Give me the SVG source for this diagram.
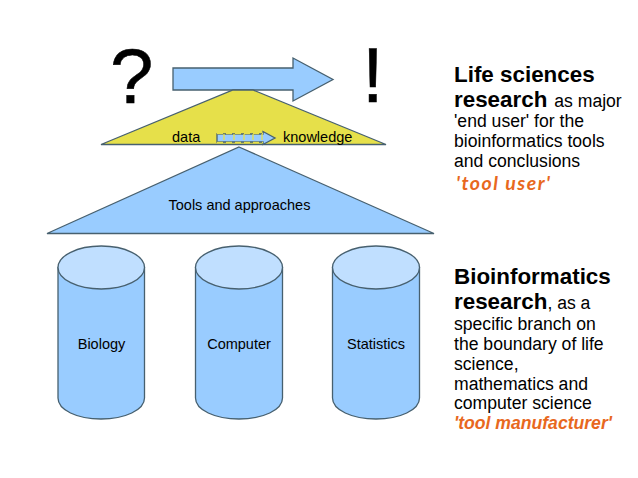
<svg xmlns="http://www.w3.org/2000/svg" width="638" height="478" viewBox="0 0 638 478">
<style>
text{font-family:"Liberation Sans",Arial,sans-serif;fill:#000}
.s{stroke:#47606f;stroke-width:1.3}
.b{fill:#99ccff}
.t{fill:#c0dfff}
.l{font-size:14.5px}
.c{font-size:14.5px;text-anchor:middle}
.h{font-size:22.4px;font-weight:bold}
.m{font-size:17.6px}
.o{fill:#e8681e;font-weight:bold;font-style:italic}
.d{fill:none;stroke:#e6e04a;stroke-width:1.3;stroke-dasharray:6 3}
.g{font-size:78px;stroke:#000;stroke-width:.5}
</style>
<rect width="638" height="478" fill="#fff"/>
<g id="question"><text class="g" x="110" y="103">?</text></g>
<g id="exclaim"><text class="g" x="362" y="102">!</text></g>
<g id="main-arrow"><path class="s b" d="M173 68H293V58L333 79.500 293 101V90H173Z"/></g>
<g id="knowledge-triangle">
<path class="s" fill="#e6e04a" d="M101 144.500L233 90H253L386 144.500Z"/>
<text class="l" x="172" y="142">data</text>
<text class="l" x="283" y="142">knowledge</text>
</g>
<g id="small-arrow">
<path class="s b" d="M217 134H263V131.500L275 138 263 144.500V142H217Z"/>
<path class="d" d="M217 133.500H263M217 142.500H263M224 134V142M234 134V142M244 134V142M253 134V142M262 134V142"/>
</g>
<g id="tools-triangle">
<path class="s b" d="M239 147L434 233.500H47Z"/>
<text class="l" x="168.500" y="210">Tools and approaches</text>
</g>
<g id="biology">
<path class="s b" d="M58 267.500V398C58 410 77 419 101 419S144.500 410 144.500 398V267.500Z"/>
<ellipse class="s t" cx="101.250" cy="267.500" rx="43.250" ry="21.500"/>
<text class="c" x="101.500" y="349">Biology</text>
</g>
<g id="computer">
<path class="s b" d="M195.500 267.500V398C195.500 410 215 419 239 419S282.500 410 282.500 398V267.500Z"/>
<ellipse class="s t" cx="239" cy="267.500" rx="43.500" ry="21.500"/>
<text class="c" x="239" y="349">Computer</text>
</g>
<g id="statistics">
<path class="s b" d="M332.500 267.500V398C332.500 410 352 419 376 419S419.500 410 419.500 398V267.500Z"/>
<ellipse class="s t" cx="376" cy="267.500" rx="43.500" ry="21.500"/>
<text class="c" x="376" y="349">Statistics</text>
</g>
<g id="life-sciences-note">
<text class="h" x="454" y="82">Life sciences</text>
<text x="454" y="107"><tspan class="h">research</tspan><tspan class="m" dx="2"> as major</tspan></text>
<text class="m" x="454" y="127">'end user' for the</text>
<text class="m" x="454" y="147">bioinformatics tools</text>
<text class="m" x="454" y="166.500">and conclusions</text>
<text class="o" x="456" y="189.500" style="font-family:Lato,'Liberation Sans',sans-serif;font-size:19.5px;letter-spacing:1.5px">'tool user'</text>
</g>
<g id="bioinformatics-note">
<text class="h" x="454" y="284">Bioinformatics</text>
<text x="454" y="309"><tspan class="h">research</tspan><tspan class="m">, as a</tspan></text>
<text class="m" x="454" y="330">specific branch on</text>
<text class="m" x="454" y="350">the boundary of life</text>
<text class="m" x="454" y="370">science,</text>
<text class="m" x="454" y="390">mathematics and</text>
<text class="m" x="454" y="408.500">computer science</text>
<text class="m o" x="454" y="429">'tool manufacturer'</text>
</g>
</svg>
